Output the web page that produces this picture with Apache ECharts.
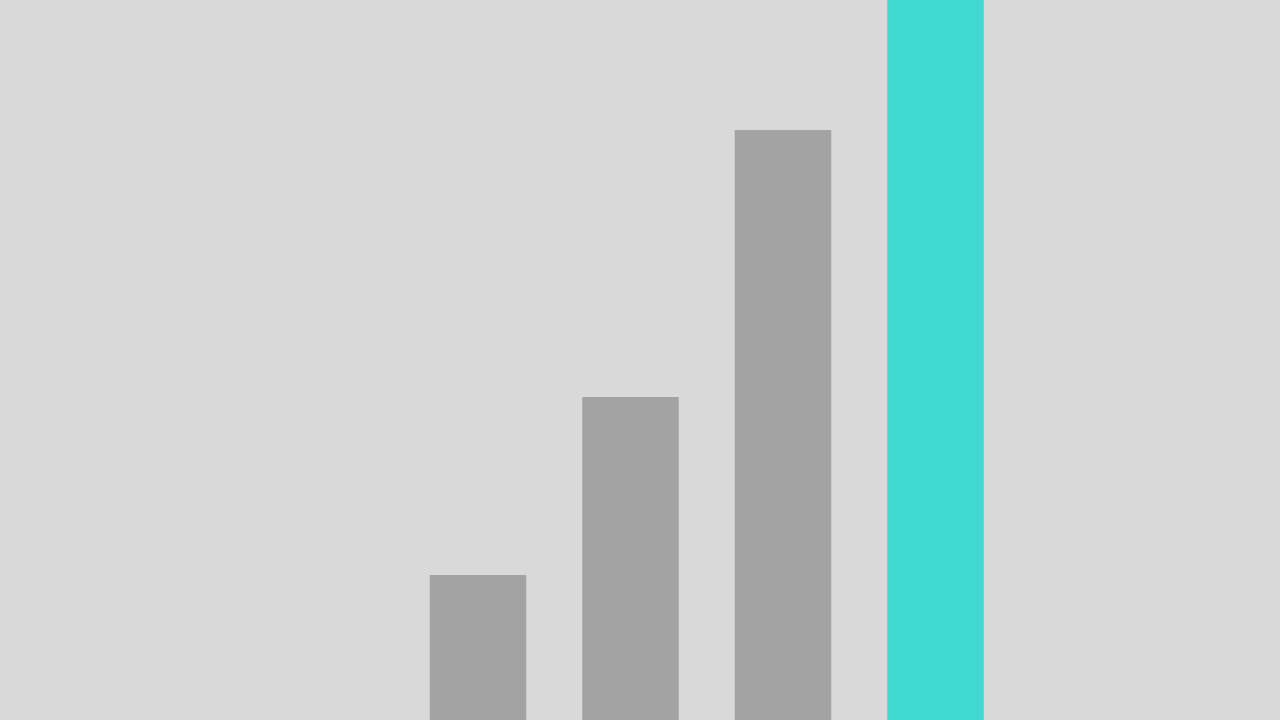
<!DOCTYPE html>
<html>
<head>
<meta charset="utf-8">
<script src="https://cdn.jsdelivr.net/npm/echarts@6/dist/echarts.min.js"></script>
<style>
  html, body { margin: 0; padding: 0; background: #d9d9d9; }
  #chart { width: 1280px; height: 720px; }
</style>
</head>
<body>
<div id="chart"></div>
<script>
const categories = ['', '', 'A', 'B', 'C', 'D', ''];
const values = [null, null, 145, 323, 590, 780, null];
const highlightIndex = 5;

const chart = echarts.init(document.getElementById('chart'));
chart.setOption({
  backgroundColor: '#d9d9d9',
  animation: false,
  grid: { left: 96.75, top: 0, bottom: 0, width: 1067.5 },
  xAxis: {
    type: 'category',
    data: categories,
    axisLine: { show: false },
    axisTick: { show: false },
    axisLabel: { show: false },
    splitLine: { show: false }
  },
  yAxis: {
    type: 'value',
    min: 0,
    max: 720,
    show: false
  },
  series: [{
    type: 'bar',
    data: values.map((v, i) => ({
      value: v,
      itemStyle: { color: i === highlightIndex ? '#40d8d0' : '#a3a3a3' }
    })),
    barWidth: 96.5,
    clip: true
  }]
});
</script>
</body>
</html>
